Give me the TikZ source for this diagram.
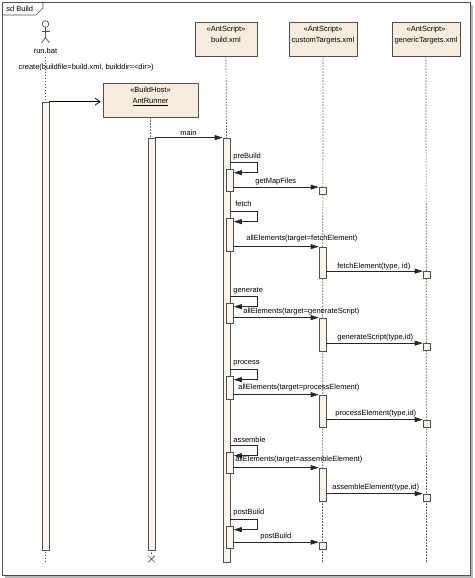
\documentclass[tikz,border=0pt]{standalone}
\usepackage{fontspec}
\setmainfont{Liberation Sans}
\usetikzlibrary{positioning,arrows.meta,calc,shadows,shapes.misc}
\definecolor{boxfill}{RGB}{248,237,220}
\definecolor{barfill}{RGB}{252,246,234}
\definecolor{edge}{RGB}{80,80,80}
\begin{document}
\begin{tikzpicture}[x=1pt, y=-1pt, >=Latex, line width=0.7pt,
  font=\fontsize{7.5}{11}\selectfont,
  hbox/.style={draw=edge,fill=boxfill,minimum width=62pt,minimum height=34pt,inner sep=0pt,
    drop shadow={shadow xshift=1.2pt,shadow yshift=-1.2pt,fill=gray!60,opacity=1}},
  bar/.style={draw=edge,fill=barfill,minimum width=7pt,inner sep=0pt},
  small/.style={bar,minimum height=7pt},
  life/.style={draw=edge,dash pattern=on 1.5pt off 1.5pt},
  msg/.style={draw=black!85,-{Triangle[length=8pt,width=5pt]}},
  lbl/.style={inner sep=0pt,anchor=west}]
  \useasboundingbox (0,0) rectangle (474,578);
  % frame and tab
  \draw[gray!55,line width=2pt] (472,5) -- (472,577) -- (5,577);
  \draw[edge] (2,2) rectangle (470,575);
  \draw[edge] (2,15) -- (36,15) -- (43,8) -- (43,2);
  \node[lbl] (sd) at (6,8.5) {sd Build};
  % actor
  \draw[edge] (45.5,24) circle[radius=3.3pt];
  \draw[edge] (45.5,27.3) -- (45.5,37.5); \draw[edge] (41.5,31.5) -- (49.5,31.5);
  \draw[edge] (41.5,43) -- (45.5,37.5) -- (49.5,43);
  \node (rl) at (45.5,50.5) {run.bat};
  % heads
  \node[hbox] (bx) at (226,39) {};
  \node[align=center,below=1pt of bx.north] (bxt) {«AntScript»\\build.xml};
  \node[hbox,minimum width=68pt] (cx) at (323,39) {};
  \node[align=center,below=1pt of cx.north] (cxt) {«AntScript»\\customTargets.xml};
  \node[hbox,minimum width=68pt] (gx) at (426,39) {};
  \node[align=center,below=1pt of gx.north] (gxt) {«AntScript»\\genericTargets.xml};
  \node[hbox,minimum width=95pt] (ar) at (150.5,100) {};
  \node[align=center,below=1pt of ar.north] (art) {«BuildHost»\\\underline{AntRunner}};
  % lifelines
  \coordinate (re) at (45.5,563); \coordinate (ce) at (322.5,563); \coordinate (ge) at (426.5,563);
  \node[draw=edge,cross out,minimum size=6pt,inner sep=0pt] (ax) at (151.5,559) {};
  \draw[life] (rl.south) -- (re); \draw[life] (ar.south) -- (ax);
  \draw[life] (bx.south) -- (226.5,138); \draw[life] (cx.south) -- (ce); \draw[life] (gx.south) -- (ge);
  % activations
  \node[bar,minimum height=448pt] (rb) at (45.5,326) {};
  \node[bar,minimum height=412pt] (ab) at (151.5,344) {};
  \node[bar,minimum height=424pt] (mb) at (226.5,350) {};
  \node[bar,minimum height=22pt] (pb) at (230,180) {};
  \node[bar,minimum height=33pt] (fb) at (230,234.5) {};
  \node[bar,minimum height=20pt] (gb) at (230,313) {};
  \node[bar,minimum height=23pt] (prb) at (230,387.5) {};
  \node[bar,minimum height=21pt] (asb) at (230,462.5) {};
  \node[bar,minimum height=22pt] (pob) at (230,537) {};
  \node[small] (c1) at (322.5,191) {};
  \node[bar,minimum height=31pt] (c2) at (322.5,262.5) {};
  \node[bar,minimum height=33pt] (c3) at (322.5,334.5) {};
  \node[bar,minimum height=32pt] (c4) at (322.5,411) {};
  \node[bar,minimum height=33pt] (c5) at (322.5,484.5) {};
  \node[small] (c6) at (322.5,546) {};
  \node[small] (g1) at (426.5,275) {};
  \node[small] (g2) at (426.5,347) {};
  \node[small] (g3) at (426.5,423.5) {};
  \node[small] (g4) at (426.5,497.5) {};
  % create and main
  \draw[-{Straight Barb[length=5pt,width=7pt]},shorten >=2pt] (rb.north east) -- (ar.west |- rb.north);
  \node[lbl] (crl) at (18.3,67.7) {create(buildfile=build.xml, builddir=<dir>)};
  \draw[msg] (ab.north east) -- (mb.north west);
  \node[lbl] (mainl) at (180,132.5) {main};
  % self calls
  \draw[msg] ($(pb.north -| mb.east)+(0,-6)$) -- ++(27,0) -- ++(0,10) -- ($(pb.north east)+(0,4)$);
  \draw[msg] ($(fb.north -| mb.east)+(0,-6)$) -- ++(27,0) -- ++(0,10) -- ($(fb.north east)+(0,4)$);
  \draw[msg] ($(gb.north -| mb.east)+(0,-6)$) -- ++(27,0) -- ++(0,10) -- ($(gb.north east)+(0,4)$);
  \draw[msg] ($(prb.north -| mb.east)+(0,-6)$) -- ++(27,0) -- ++(0,10) -- ($(prb.north east)+(0,4)$);
  \draw[msg] ($(asb.north -| mb.east)+(0,-6)$) -- ++(27,0) -- ++(0,10) -- ($(asb.north east)+(0,4)$);
  \draw[msg] ($(pob.north -| mb.east)+(0,-6)$) -- ++(27,0) -- ++(0,10) -- ($(pob.north east)+(0,4)$);
  \node[lbl] (l1) at (233,157) {preBuild};
  \node[lbl] (l2) at (235,204) {fetch};
  \node[lbl] (l3) at (233,291) {generate};
  \node[lbl] (l4) at (233,363) {process};
  \node[lbl] (l5) at (233,440) {assemble};
  \node[lbl] (l6) at (233,513) {postBuild};
  % calls to the scripts
  \draw[msg] (pb.east |- c1.north) -- (c1.north west);
  \node[lbl] (m1) at (255,181.7) {getMapFiles};
  \draw[msg] (fb.east |- c2.north) -- (c2.north west);
  \node[lbl] (m2) at (246,239) {allElements(target=fetchElement)};
  \draw[msg] (c2.east |- g1.north) -- (g1.north west);
  \node[lbl] (m3) at (337,266.7) {fetchElement(type, id)};
  \draw[msg] (gb.east |- c3.north) -- (c3.north west);
  \node[lbl] (m4) at (243,312) {allElements(target=generateScript)};
  \draw[msg] (c3.east |- g2.north) -- (g2.north west);
  \node[lbl] (m5) at (337,338) {generateScript(type,id)};
  \draw[msg] (prb.east |- c4.north) -- (c4.north west);
  \node[lbl] (m6) at (238,388) {allElements(target=processElement)};
  \draw[msg] (c4.east |- g3.north) -- (g3.north west);
  \node[lbl] (m7) at (335,414) {processElement(type,id)};
  \draw[msg] (asb.east |- c5.north) -- (c5.north west);
  \node[lbl] (m8) at (235,460) {allElements(target=assembleElement)};
  \draw[msg] (c5.east |- g4.north) -- (g4.north west);
  \node[lbl] (m9) at (332,488) {assembleElement(type,id)};
  \draw[msg] (pob.east |- c6.north) -- (c6.north west);
  \node[lbl] (m10) at (260,537) {postBuild};
\end{tikzpicture}
\end{document}
